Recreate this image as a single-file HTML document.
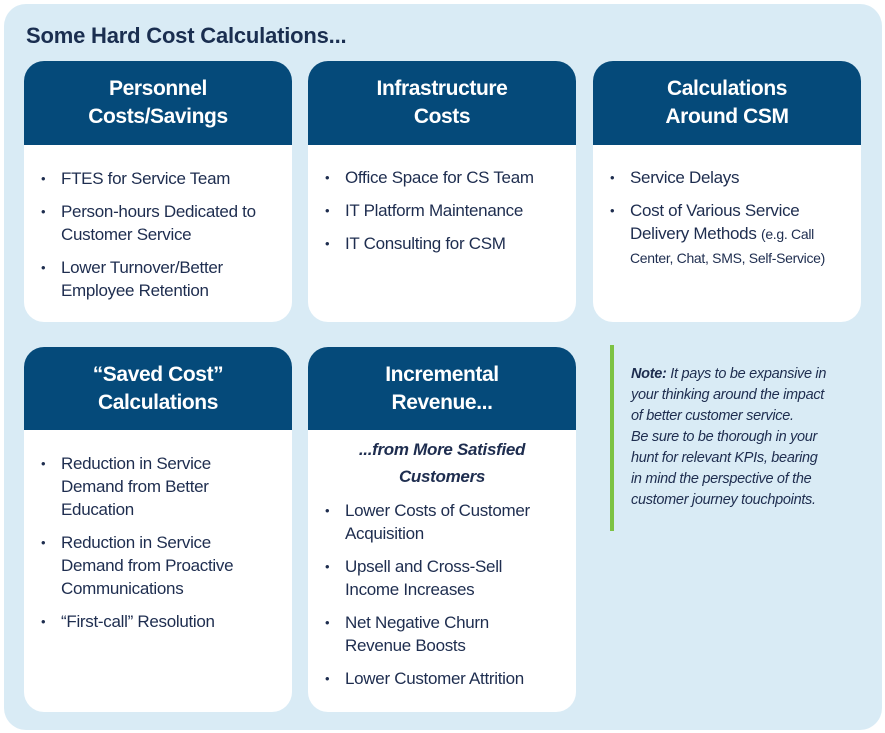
<!DOCTYPE html>
<html><head><meta charset="utf-8"><style>
*{margin:0;padding:0;box-sizing:border-box}
body{width:885px;height:733px;background:#fff;position:relative;overflow:hidden;font-family:"Liberation Sans",Arial,sans-serif;color:#1e2d4f}
.panel{position:absolute;left:4px;top:4px;width:878px;height:726px;background:#d9ebf5;border-radius:22px}
h1{position:absolute;left:26px;top:23px;font-size:22px;font-weight:bold;color:#1a2e50;letter-spacing:-0.2px}
.card{position:absolute;background:#fff;border-radius:20px;overflow:hidden}
.hd{background:#054a7a;color:#fff;font-weight:bold;font-size:21px;line-height:28px;text-align:center;letter-spacing:-0.4px;display:flex;align-items:center;justify-content:center;flex-direction:column}
ul{list-style:none;position:absolute;left:0;right:0}
li{position:relative;padding-left:37px;font-size:17px;line-height:23px;margin-bottom:10px;letter-spacing:-0.3px;white-space:nowrap}
li:before{content:"•";position:absolute;left:17px;font-size:13px}
.sm{font-size:14px}
.note{position:absolute;left:610px;top:345px;width:4px;height:186px;background:#7dc243}
.nt{position:absolute;left:631px;top:364px;font-size:14.5px;line-height:21px;font-style:italic;color:#1e2d4f;letter-spacing:-0.3px;white-space:nowrap}
</style></head><body>
<div class="panel"></div>
<h1>Some Hard Cost Calculations...</h1>

<div class="card" style="left:24px;top:61px;width:268px;height:261px">
<div class="hd" style="height:84px">Personnel<br>Costs/Savings</div>
<ul style="top:106px">
<li>FTES for Service Team</li>
<li>Person-hours Dedicated to<br>Customer Service</li>
<li>Lower Turnover/Better<br>Employee Retention</li>
</ul></div>

<div class="card" style="left:308px;top:61px;width:268px;height:261px">
<div class="hd" style="height:84px">Infrastructure<br>Costs</div>
<ul style="top:105px">
<li>Office Space for CS Team</li>
<li>IT Platform Maintenance</li>
<li>IT Consulting for CSM</li>
</ul></div>

<div class="card" style="left:593px;top:61px;width:268px;height:261px">
<div class="hd" style="height:84px">Calculations<br>Around CSM</div>
<ul style="top:105px">
<li>Service Delays</li>
<li>Cost of Various Service<br>Delivery Methods <span class="sm">(e.g. Call<br>Center, Chat, SMS, Self-Service)</span></li>
</ul></div>

<div class="card" style="left:24px;top:347px;width:268px;height:365px">
<div class="hd" style="height:83px">“Saved Cost”<br>Calculations</div>
<ul style="top:105px">
<li>Reduction in Service<br>Demand from Better<br>Education</li>
<li>Reduction in Service<br>Demand from Proactive<br>Communications</li>
<li>“First-call” Resolution</li>
</ul></div>

<div class="card" style="left:308px;top:347px;width:268px;height:365px">
<div class="hd" style="height:83px">Incremental<br>Revenue...</div>
<div style="position:absolute;top:89px;left:0;right:0;text-align:center;font-weight:bold;font-style:italic;font-size:17px;line-height:27px;letter-spacing:-0.3px">...from More Satisfied<br>Customers</div>
<ul style="top:152px">
<li>Lower Costs of Customer<br>Acquisition</li>
<li>Upsell and Cross-Sell<br>Income Increases</li>
<li>Net Negative Churn<br>Revenue Boosts</li>
<li>Lower Customer Attrition</li>
</ul></div>

<div class="note"></div>
<div class="nt"><b>Note:</b> It pays to be expansive in<br>your thinking around the impact<br>of better customer service.<br>Be sure to be thorough in your<br>hunt for relevant KPIs, bearing<br>in mind the perspective of the<br>customer journey touchpoints.</div>
</body></html>
